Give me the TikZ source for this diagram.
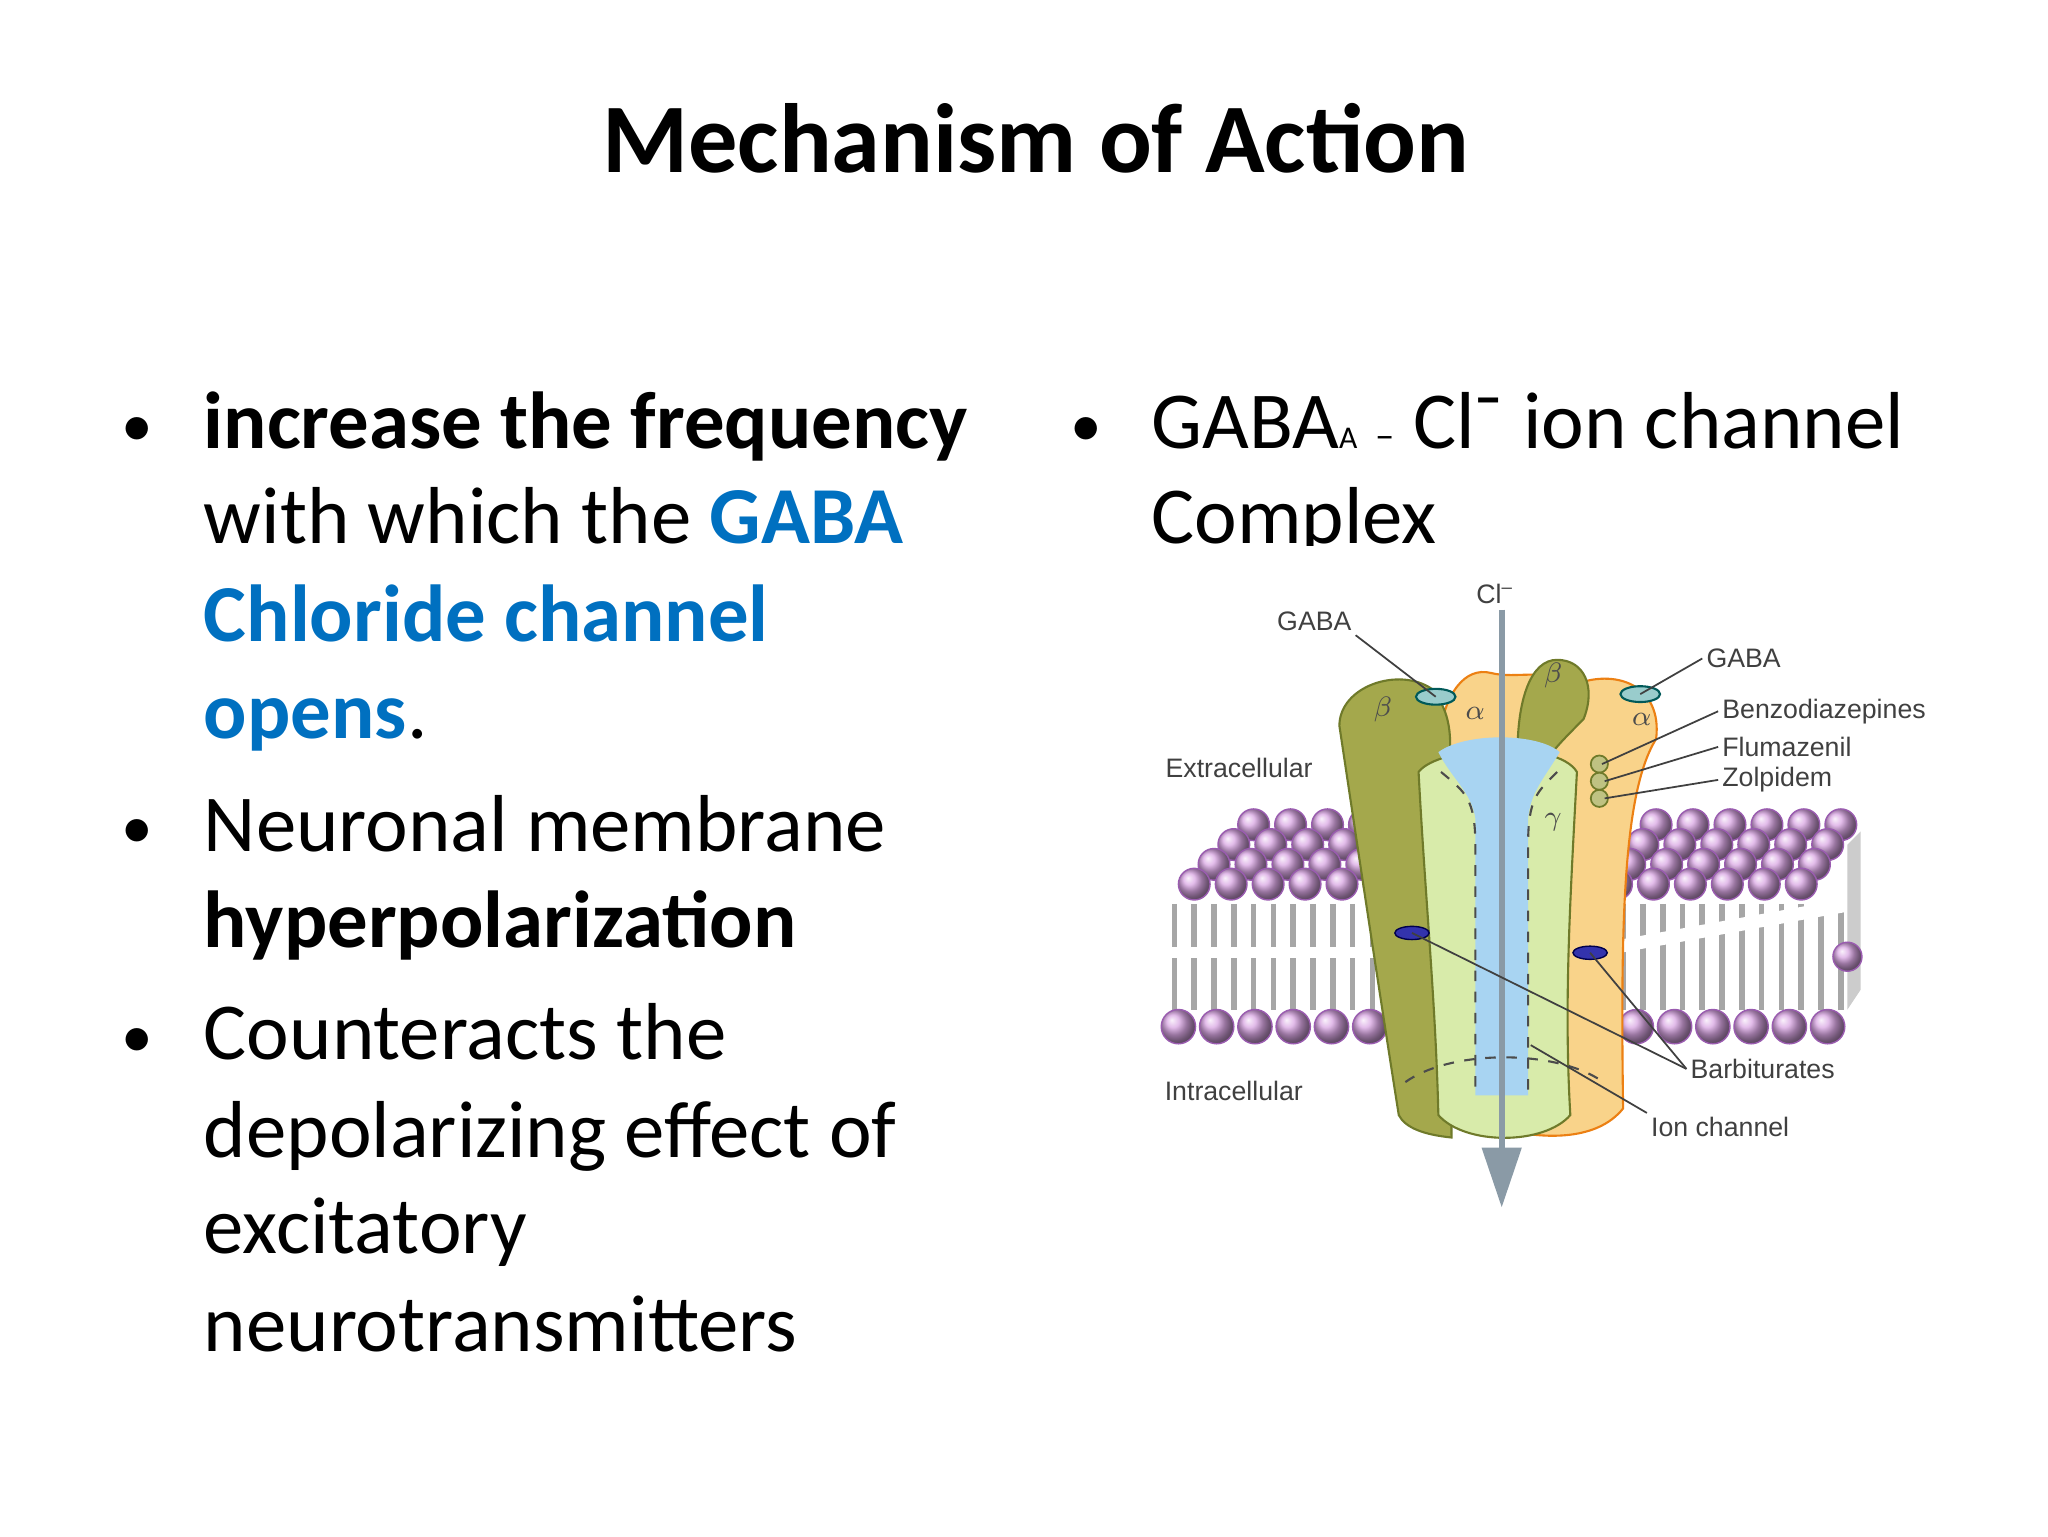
\documentclass[tikz,border=0pt]{standalone}
\usepackage{fontspec}
\setmainfont{Carlito}
\newfontfamily\labfont{Liberation Sans}
\usetikzlibrary{arrows.meta}
\definecolor{gblue}{HTML}{0070C0}
\definecolor{olive}{HTML}{A4A84C}
\definecolor{oliveD}{HTML}{6F7A2A}
\definecolor{orng}{HTML}{F9D38A}
\definecolor{lgreen}{HTML}{D8EBAA}
\definecolor{pore}{HTML}{A8D4F2}
\definecolor{lipid}{HTML}{D9A6E3}
\definecolor{lipidD}{HTML}{9A5CB0}
\definecolor{arrg}{HTML}{8A9AA6}
\tikzset{
  body/.style={anchor=base west,inner sep=0pt,font=\fontsize{23}{27}\selectfont},
  bul/.style={anchor=base,inner sep=0pt,font=\fontsize{18}{27}\selectfont},
  lab/.style={inner sep=1pt,font=\labfont\fontsize{7.6}{8}\selectfont,text=black!75},
  greek/.style={inner sep=0pt,font=\fontsize{8}{8}\selectfont,text=black!70},
  lead/.style={black!75,line width=0.5pt},
  head/.style={ball color=lipid,draw=lipidD,line width=0.4pt},
}
\begin{document}
\begin{tikzpicture}[x=0.0132cm,y=-0.0132cm]
	\useasboundingbox (0,0) rectangle (1552,1164);
	
	% Title
	\node[inner sep=0pt,font=\bfseries\fontsize{28}{30}\selectfont] (title) at (785,105) {Mechanism of Action};
	
	% Left column
	\node[bul] (b1) at (104,338) {\textbullet};
	\node[body] (l1) at (154,340) {\textbf{increase the frequency}};
	\node[body] (l2) at (154,412) {with which the \textcolor{gblue}{\textbf{GABA}}};
	\node[body] (l3) at (154,486) {\textcolor{gblue}{\textbf{Chloride channel}}};
	\node[body] (l4) at (154,560) {\textcolor{gblue}{\textbf{opens}}.};
	\node[bul] (b2) at (104,643) {\textbullet};
	\node[body] (l5) at (154,645) {Neuronal membrane};
	\node[body] (l6) at (154,718) {\textbf{hyperpolarization}};
	\node[bul] (b3) at (104,801) {\textbullet};
	\node[body] (l7) at (154,803) {Counteracts the};
	\node[body] (l8) at (154,877) {depolarizing effect of};
	\node[body] (l9) at (154,950) {excitatory};
	\node[body] (l10) at (154,1024) {neurotransmitters};
	
	% Right column
	\node[bul] (b4) at (823,338) {\textbullet};
	\node[body] (r1) at (872,340) {GABA{\fontsize{9}{9}\selectfont A} {\fontsize{11}{11}\selectfont –} Cl\textsuperscript{\textbf{–}} ion channel};
	\node[body] (r2) at (872,412) {Complex};
	\fill[white] (860,414) rectangle (1480,930);
	
	% Membrane tails
	\foreach \x in {890,905,...,1050} {
		\draw[gray!70,line width=1.6pt] (\x,685) -- (\x,765);
	}
	\foreach \x in {1230,1245,...,1400} {
		\draw[gray!70,line width=1.6pt] (\x,685) -- (\x,765);
	}
	\fill[white] (885,718) rectangle (1055,726);
	\fill[white] (1228,712) -- (1405,680) -- (1405,690) -- (1228,722) -- cycle;
	\fill[gray!40] (1400,640) -- (1410,630) -- (1410,750) -- (1400,765) -- cycle;
	
	% Membrane heads
	\foreach \r in {0,1,2,3} {
		\foreach \x in {0,...,5} {
			\shade[head] ({950-\r*15+\x*28},{625+\r*15}) circle (12);
			\shade[head] ({1255-\r*10+\x*28},{625+\r*15}) circle (12);
		}
	}
	\foreach \x in {0,...,5} {
		\shade[head] ({893+\x*29},778) circle (13);
		\shade[head] ({1240+\x*29},778) circle (13);
	}
	\shade[head] (1400,725) circle (11);
	
	% Channel protein
	\filldraw[fill=orng,draw=orange!70!brown,line width=0.6pt]
		(1090,560) .. controls (1095,525) and (1110,505) .. (1130,510)
		.. controls (1150,515) and (1170,505) .. (1190,520)
		.. controls (1225,505) and (1260,520) .. (1255,560)
		.. controls (1230,600) and (1228,700) .. (1230,840)
		.. controls (1210,865) and (1170,862) .. (1150,858) -- cycle;
	\filldraw[fill=olive,draw=oliveD,line width=0.6pt]
		(1150,570) .. controls (1150,530) and (1160,500) .. (1180,500)
		.. controls (1200,500) and (1210,520) .. (1200,545)
		.. controls (1185,560) and (1175,570) .. (1170,580) -- cycle;
	\filldraw[fill=olive,draw=oliveD,line width=0.6pt]
		(1060,845) .. controls (1045,750) and (1030,650) .. (1015,550)
		.. controls (1015,520) and (1060,505) .. (1085,522)
		.. controls (1100,540) and (1100,560) .. (1098,580)
		-- (1100,862) .. controls (1080,860) and (1065,855) .. cycle;
	\filldraw[fill=lgreen,draw=oliveD,line width=0.6pt]
		(1075,585) .. controls (1090,565) and (1180,560) .. (1195,585)
		.. controls (1190,680) and (1185,760) .. (1190,845)
		.. controls (1170,868) and (1110,868) .. (1090,845)
		.. controls (1088,760) and (1080,680) .. cycle;
	\filldraw[fill=pore,draw=none]
		(1090,570) .. controls (1110,555) and (1165,555) .. (1182,570)
		.. controls (1170,590) and (1160,600) .. (1158,620)
		-- (1158,830) -- (1118,830) -- (1118,620)
		.. controls (1115,600) and (1100,590) .. cycle;
	\draw[dashed,black!70,line width=0.6pt] (1092,585) .. controls (1110,600) and (1118,605) .. (1118,640) -- (1118,828);
	\draw[dashed,black!70,line width=0.6pt] (1180,585) .. controls (1165,600) and (1158,605) .. (1158,640) -- (1158,828);
	\draw[dashed,black!70,line width=0.6pt] (1065,820) .. controls (1100,795) and (1180,795) .. (1215,820);
	
	% Binding sites
	\filldraw[fill=teal!40,draw=teal!70!black,line width=0.6pt] (1088,528) ellipse (15 and 6);
	\filldraw[fill=teal!40,draw=teal!70!black,line width=0.6pt] (1243,526) ellipse (15 and 6);
	\foreach \y in {579,592,605} {
		\filldraw[fill=olive!70,draw=oliveD,line width=0.5pt] (1212,\y) circle (6.5);
	}
	\filldraw[fill=blue!60!black!80,draw=blue!30!black] (1070,707) ellipse (13 and 5);
	\filldraw[fill=blue!60!black!80,draw=blue!30!black] (1205,722) ellipse (13 and 5);
	\coordinate (gabaL) at (1088,528);
	\coordinate (gabaR) at (1243,526);
	\coordinate (bzd) at (1214,579);
	\coordinate (flu) at (1216,592);
	\coordinate (zol) at (1216,605);
	\coordinate (barbL) at (1070,707);
	\coordinate (barbR) at (1205,722);
	\coordinate (pore) at (1160,792);
	
	% Chloride arrow
	\node[lab] (cl) at (1133,450) {Cl\textsuperscript{–}};
	\coordinate (clStart) at (1138,462);
	\coordinate (clEnd) at (1138,915);
	\draw[arrg,line width=1.6pt,-{Triangle[length=17pt,width=11pt]}] (clStart) -- (clEnd);
	
	% Greek letters
	\node[greek] (bL) at (1048,538) {$\beta$};
	\node[greek] (aL) at (1118,541) {$\alpha$};
	\node[greek] (bR) at (1177,512) {$\beta$};
	\node[greek] (aR) at (1244,545) {$\alpha$};
	\node[greek] (gm) at (1177,623) {$\gamma$};
	
	% Labels
	\node[lab] (gabaLt) at (996,471) {GABA};
	\node[lab,anchor=west] (gabaRt) at (1290,499) {GABA};
	\node[lab,anchor=west] (bzdt) at (1302,539) {Benzodiazepines};
	\node[lab,anchor=west] (flut) at (1302,566) {Flumazenil};
	\node[lab,anchor=west] (zolt) at (1302,591) {Zolpidem};
	\node[lab] (extra) at (939,582) {Extracellular};
	\node[lab] (intra) at (935,827) {Intracellular};
	\node[lab,anchor=west] (barbt) at (1278,810) {Barbiturates};
	\node[lab,anchor=west] (iont) at (1248,854) {Ion channel};
	
	% Leader lines
	\draw[lead] (gabaLt.south east) -- (gabaL);
	\draw[lead] (gabaRt.west) -- (gabaR);
	\draw[lead] (bzdt.west) -- (bzd);
	\draw[lead] (flut.west) -- (flu);
	\draw[lead] (zolt.west) -- (zol);
	\draw[lead] (barbt.west) -- (barbL);
	\draw[lead] (barbt.west) -- (barbR);
	\draw[lead] (iont.north west) -- (pore);
	
\end{tikzpicture}
\end{document}
